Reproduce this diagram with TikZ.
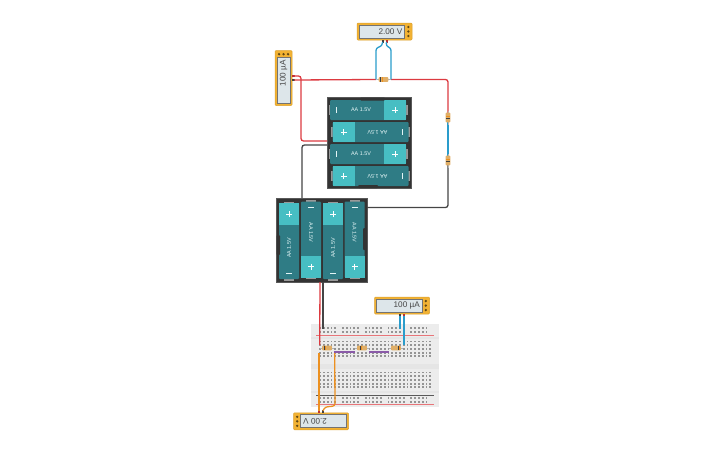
\documentclass[tikz,border=0pt]{standalone}
\usepackage{fontspec}
\setmainfont{Liberation Sans}
\definecolor{wirered}{HTML}{DC3A40}
\definecolor{wireblue}{HTML}{2A9CCB}
\definecolor{wireblack}{HTML}{454545}
\definecolor{wireorange}{HTML}{EC9020}
\definecolor{wirepurple}{HTML}{8A5AA8}
\definecolor{meterorange}{HTML}{F2B233}
\definecolor{meterscreen}{HTML}{DDE6EA}
\definecolor{cellbody}{HTML}{2F7C85}
\definecolor{cellplus}{HTML}{47BEC3}
\definecolor{boardgrey}{HTML}{ECECEC}
\definecolor{resistortan}{HTML}{E0AE66}
\tikzset{
	wire/.style={line width=1.3pt,rounded corners=2.5pt},
	pack/.style={draw=black!65,fill=black!80,line width=0.8pt,inner sep=0pt},
	metercase/.style={draw=meterorange!90!black,fill=meterorange,line width=0.5pt,rounded corners=1pt},
	meterglass/.style={draw=black!55,fill=meterscreen,line width=0.8pt},
	metertext/.style={text=black!72,font=\fontsize{8.2}{8.2}\selectfont,inner sep=0pt},
	celltext/.style={text=white!85!cellplus,font=\fontsize{5.4}{5.4}\selectfont,inner sep=0pt},
	hole/.style={fill=black!42}
}
\begin{document}
\begin{tikzpicture}[x=1pt,y=-1pt]
	\useasboundingbox (0,0) rectangle (725,453);
	% breadboard
	\node[fill=boardgrey,minimum width=128pt,minimum height=83pt,inner sep=0pt] (board) at (375,365.5) {};
	\fill[black!10] (311,337) rectangle (439,338.5);
	\fill[black!10] (311,363.5) rectangle (439,369);
	\fill[black!10] (311,391) rectangle (439,392.5);
	\foreach \hy in {328,332,398,402}
		\foreach \grp in {0,...,4}
			\foreach \hx in {0,...,4}
				\fill[hole] (320+\grp*22.8+\hx*3.8-0.9,\hy-0.9) rectangle ++(1.8,1.8);
	\foreach \hy in {341.5,345.2,348.9,352.6,356.3,372.5,376.2,379.9,383.6,387.3}
		\foreach \hx in {0,...,29}
			\fill[hole] (320+\hx*3.8-0.9,\hy-0.9) rectangle ++(1.8,1.8);
	\draw[wirered!70!white,line width=0.6pt] (316,335) -- (434,335);
	\draw[black!65,line width=0.6pt] (316,395) -- (434,395);
	\draw[wirered!70!white,line width=0.6pt] (316,404) -- (434,404);
	% battery packs
	\node[pack,minimum width=84pt,minimum height=91pt] (upack) at (369,142.5) {};
	\node[pack,minimum width=91pt,minimum height=84pt] (lpack) at (321.5,240) {};
	\foreach \cx/\cy/\ang in {368/110/0,370.5/132/180,368/154/0,370.5/176/180,289/241/90,311/239.5/270,333/241/90,354.5/239.5/270}
	{
		\begin{scope}[shift={(\cx,\cy)},rotate=\ang]
			\fill[black!40] (-39.5,-5) rectangle (39.5,5);
			\fill[cellbody,rounded corners=1pt] (-38,-10) rectangle (38,10);
			\fill[cellplus] (16,-10) rectangle (38,10);
			\fill[white!85!cellplus] (-32.5,-3) rectangle (-31.5,3);
			\draw[white,line width=0.9pt] (24,0) -- (30,0) (27,-3) -- (27,3);
			\node[celltext,transform shape] (celltxt) at (-7,0) {AA 1.5V};
		\end{scope}
	}
	\fill[black!80,rounded corners=1pt] (360,97.5) rectangle (385,100.5);
	\fill[black!80,rounded corners=1pt] (358,185) rectangle (378,188);
	\fill[black!80,rounded corners=1pt] (276.5,235) rectangle (280,255);
	\fill[black!80,rounded corners=1pt] (363,228) rectangle (366.5,250);
	% meters
	\foreach \nm/\cx/\cy/\ang/\val in {mtop/384.5/31.5/0/2.00 V,mleft/283.5/78/90/100 µA,mright/402/305.5/0/100 µA,mbot/321/421.3/180/2.00 V}
	{
		\begin{scope}[shift={(\cx,\cy)},rotate=\ang]
			\draw[metercase] (-27.5,-8.5) rectangle (27.5,8.5);
			\draw[meterglass] (-25.3,-6.5) rectangle (20.3,6.5);
			\foreach \dy in {-4.5,0,4.5}
				\fill[black!60!meterorange] (23.8,\dy) circle (1.3pt);
			\fill[black!75] (-3,8.5) rectangle (-1,11);
			\fill[wirered!85!black] (1,8.5) rectangle (3,11);
			\coordinate (\nm-b) at (-2,10.5);
			\coordinate (\nm-r) at (2,10.5);
			\node[metertext,transform shape,anchor=east] (\nm-val) at (18,0.2) {\val};
		\end{scope}
	}
	% wire ends
	\coordinate (upack-r) at (327,141);
	\coordinate (upack-b) at (327,145);
	\coordinate (upack-o) at (302,198);
	\coordinate (lpack-e) at (367,207.5);
	\coordinate (lpack-r) at (320,282);
	\coordinate (lpack-b) at (323,282);
	\coordinate (brd-r) at (319.7,345);
	\coordinate (brd-b) at (323,329);
	\coordinate (brd-m) at (400,329);
	\coordinate (brd-n) at (404,345);
	\coordinate (brd-p) at (319,353);
	\coordinate (brd-q) at (334.7,351);
	\coordinate (ra) at (376,79.5);
	\coordinate (rb) at (391,79.5);
	\coordinate (rc) at (448,113);
	\coordinate (rd) at (448,122);
	\coordinate (re) at (448,156);
	\coordinate (rf) at (448,165);
	% wires
	\draw[wire,wirered] (mleft-r) -- (301,76) -- (301,141) -- (upack-r);
	\draw[wire,wirered] (mleft-b) -- (ra);
	\draw[wire,wirered] (rb) -- (448,79.5) -- (rc);
	\draw[wire,wireblue] (rd) -- (re);
	\draw[wire,wireblack] (rf) -- (448,207.5) -- (lpack-e);
	\draw[wire,wireblack] (upack-b) -- (302,145) -- (upack-o);
	\draw[wire,wireblue] (mtop-b) -- (382,46) -- (376,48) -- (ra);
	\draw[wire,wireblue] (mtop-r) -- (386,46) -- (391,48) -- (rb);
	\draw[wire,wirered] (lpack-r) -- (brd-r);
	\draw[wire,wireblack] (lpack-b) -- (brd-b);
	\draw[wire,wireblue] (mright-b) -- (brd-m);
	\draw[wire,wireblue] (mright-r) -- (brd-n);
	\draw[wire,wireorange] (brd-p) -- (mbot-r);
	\draw[wire,wireorange] (brd-q) -- (335,406) -- (325,407) -- (mbot-b);
	\draw[line width=1.7pt,wirepurple] (334,351.7) -- (355,351.7);
	\draw[line width=1.7pt,wirepurple] (369,351.7) -- (389,351.7);
	% resistors
	\foreach \nm/\cx/\cy/\ang/\bnd in {rtop/383.5/79.5/0/-3,rup/448/117.5/90/-1,rlow/448/160.5/90/-1,rbone/327/348/0/-3,rbtwo/362/348/0/-2,rbthree/396/348/0/2}
	{
		\begin{scope}[shift={(\cx,\cy)},rotate=\ang]
			\draw[black!30,line width=0.5pt] (-7,0) -- (7,0);
			\fill[resistortan,rounded corners=0.8pt] (-4.8,-2.3) rectangle (4.8,2.3);
			\fill[black!75] (\bnd-0.5,-2.3) rectangle (\bnd+0.5,2.3);
			\fill[wireorange] (\bnd+1.3,-2.3) rectangle (\bnd+2.3,2.3);
			\coordinate (\nm) at (0,0);
		\end{scope}
	}
\end{tikzpicture}
\end{document}
